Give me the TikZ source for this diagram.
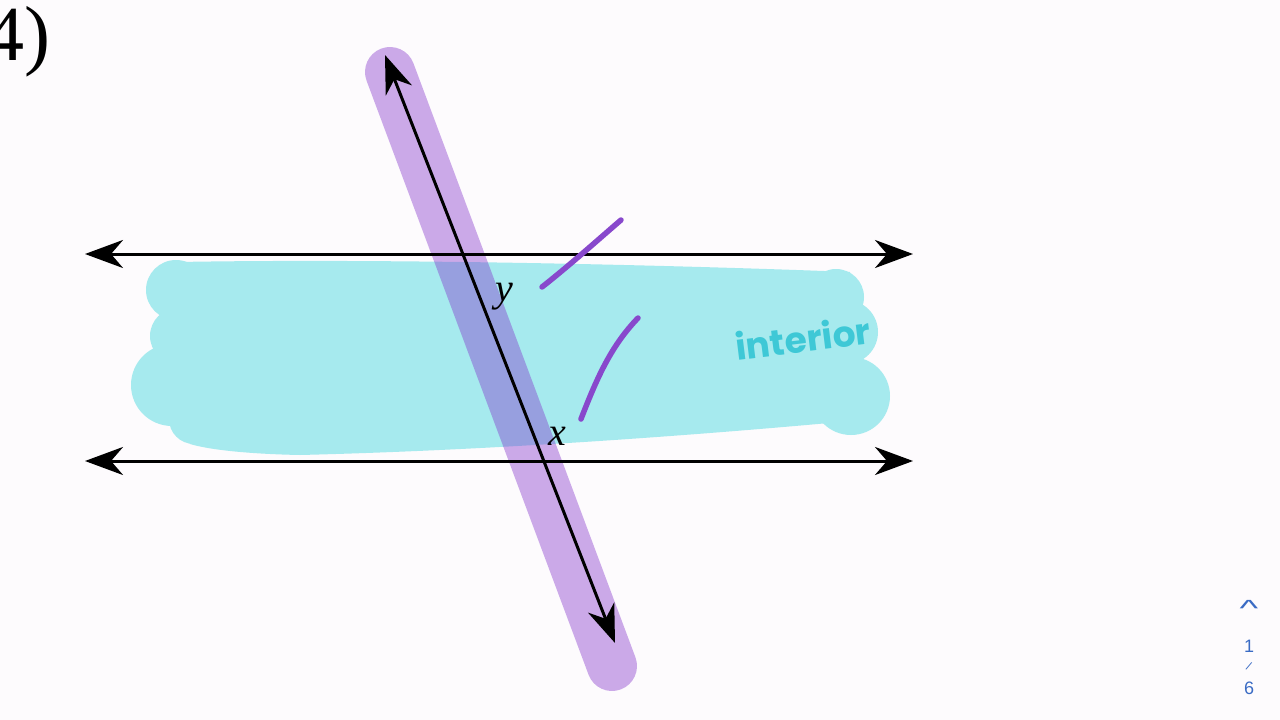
\documentclass[tikz,border=0pt]{standalone}
\usepackage{fontspec}
\setmainfont{Liberation Serif}
\newfontfamily\uisans{Liberation Sans}
\newfontfamily\handfont{Poppins}
\usetikzlibrary{arrows.meta}
\definecolor{bgc}{RGB}{253,251,253}
\definecolor{cyanfill}{RGB}{166,234,238}
\definecolor{bandc}{RGB}{130,47,202}
\definecolor{strokec}{RGB}{136,72,204}
\definecolor{handc}{RGB}{62,200,214}
\definecolor{uiblue}{RGB}{58,107,196}
\tikzset{
  dline/.style={line width=3pt, black, {Stealth[length=38pt,width=28pt,inset=12pt]}-{Stealth[length=38pt,width=28pt,inset=12pt]}},
  mark stroke/.style={line width=5.5pt, strokec, line cap=round},
  anglabel/.style={font=\fontsize{40}{40}\selectfont\itshape, inner sep=0pt},
  uitext/.style={font=\uisans\fontsize{18}{18}\selectfont, text=uiblue, inner sep=0pt}
}
\begin{document}
\begin{tikzpicture}[x=1pt,y=-1pt]
\fill[bgc] (0,0) rectangle (1280,720);
\useasboundingbox (0,0) rectangle (1280,720);
% cyan interior blob
\fill[cyanfill] (178,262) .. controls (400,258) and (700,266) .. (850,272)
  -- (862,420) .. controls (700,435) and (500,450) .. (300,455)
  .. controls (250,454) and (210,450) .. (190,444) -- (160,290) -- cycle;
\fill[cyanfill] (176,290) circle (30);
\fill[cyanfill] (178,336) circle (28);
\fill[cyanfill] (172,385) circle (41);
\fill[cyanfill] (194,419) circle (25);
\fill[cyanfill] (836,297) circle (28);
\fill[cyanfill] (846,332) circle (32);
\fill[cyanfill] (851,396) circle (39);
% purple band
\draw[bandc, opacity=0.4, line width=50pt, line cap=round] (390,72) -- (612,666);
% coordinates
\coordinate (tl) at (85,254);
\coordinate (tr) at (913,254);
\coordinate (bl) at (85,461);
\coordinate (br) at (913,461);
\coordinate (ttop) at (385,55);
\coordinate (tbot) at (615,643);
\draw[dline] (tl) -- (tr);
\draw[dline] (bl) -- (br);
\draw[dline] (ttop) -- (tbot);
% labels
\node[anglabel] (ylab) at (504,297) {y};
\node[anglabel] (xlab) at (557,436) {x};
% purple marks
\coordinate (m1a) at (542,287);
\coordinate (m1b) at (621,220);
\coordinate (m2a) at (581,419);
\coordinate (m2b) at (638,318);
\draw[mark stroke] (m1a) .. controls (570,265) and (600,238) .. (m1b);
\draw[mark stroke] (m2a) .. controls (598,375) and (612,345) .. (m2b);
% interior label
\node[font=\handfont\bfseries\fontsize{36}{36}\selectfont, text=handc, rotate=7, inner sep=0pt] (interior) at (803,338) {interior};
% problem number
\node[font=\fontsize{78}{78}\selectfont, inner sep=0pt, anchor=west] (num) at (-15,42) {4)};
% page indicator
\node[uitext] (chev) at (1249,608) {\scalebox{2.2}[1.3]{\^{}}};
\node[uitext] (p1) at (1249,646) {1};
\node[uitext] (slash) at (1249,666) {\rotatebox{-25}{\fontsize{12}{12}\selectfont /}};
\node[uitext] (p6) at (1249,688) {6};
\end{tikzpicture}
\end{document}
